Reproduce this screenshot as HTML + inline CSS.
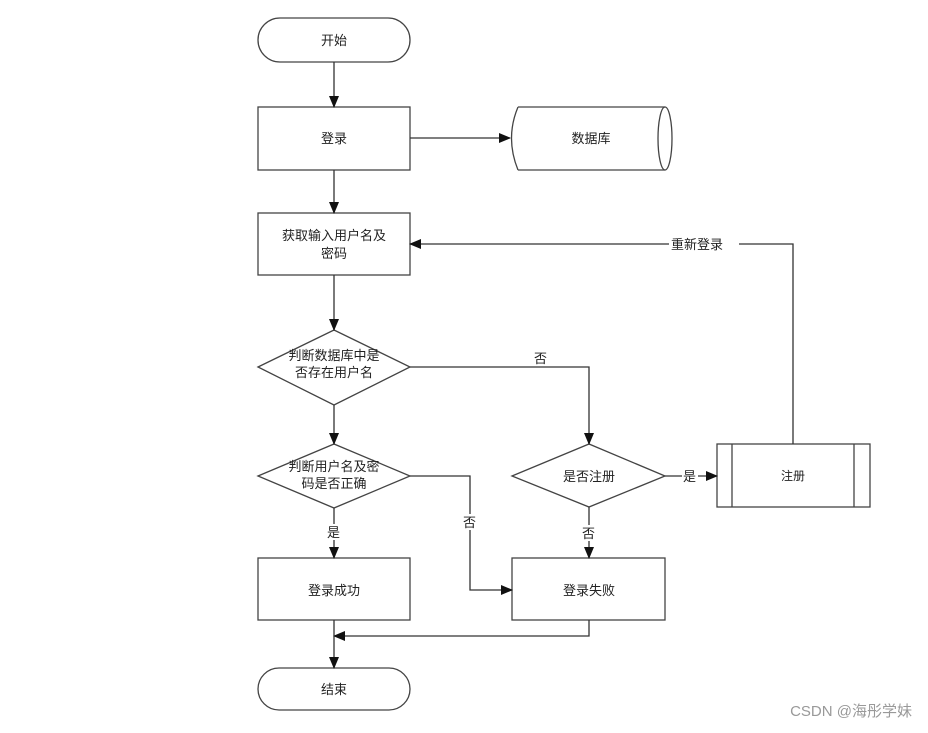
<!DOCTYPE html>
<html><head><meta charset="utf-8"><style>
html,body{margin:0;padding:0;background:#fff;}
svg text{font-family:"Liberation Sans","Noto Sans CJK SC",sans-serif;font-size:13px;fill:#222;}
</style></head><body>
<svg width="928" height="728" viewBox="0 0 928 728" xmlns="http://www.w3.org/2000/svg">
<defs><marker id="a" markerWidth="12" markerHeight="10" refX="11" refY="5" orient="auto" markerUnits="userSpaceOnUse"><path d="M0,0 L12,5 L0,10 z" fill="#111"/></marker></defs>
<g fill="none" stroke="#444" stroke-width="1.3">
<rect x="258" y="18" width="152" height="44" rx="22"/>
<rect x="258" y="107" width="152" height="63"/>
<path d="M518,107 H665 M518,170 H665 M518,107 Q505,138 518,170"/>
<ellipse cx="665" cy="138.5" rx="7" ry="31.5"/>
<rect x="258" y="213" width="152" height="62"/>
<polygon points="258,367 334,330 410,367 334,405"/>
<polygon points="258,476 334,444 410,476 334,508"/>
<polygon points="512,476 589,444 665,476 589,507"/>
<rect x="717" y="444" width="153" height="63"/>
<path d="M732,444 V507 M854,444 V507"/>
<rect x="258" y="558" width="152" height="62"/>
<rect x="512" y="558" width="153" height="62"/>
<rect x="258" y="668" width="152" height="42" rx="21"/>
</g>
<g fill="none" stroke="#333" stroke-width="1.3">
<path d="M334,62 V107" marker-end="url(#a)"/>
<path d="M410,138 H510" marker-end="url(#a)"/>
<path d="M334,170 V213" marker-end="url(#a)"/>
<path d="M334,275 V330" marker-end="url(#a)"/>
<path d="M334,405 V444" marker-end="url(#a)"/>
<path d="M410,367 H589 V444" marker-end="url(#a)"/>
<path d="M410,476 H470 V590 H512" marker-end="url(#a)"/>
<path d="M665,476 H717" marker-end="url(#a)"/>
<path d="M793,444 V244 H410" marker-end="url(#a)"/>
<path d="M589,507 V558" marker-end="url(#a)"/>
<path d="M334,508 V558" marker-end="url(#a)"/>
<path d="M589,620 V636 H334" marker-end="url(#a)"/>
<path d="M334,620 V668" marker-end="url(#a)"/>
</g>
<g text-anchor="middle">
<text x="334" y="45">开始</text>
<text x="334" y="143">登录</text>
<text x="591" y="143">数据库</text>
<text x="334" y="240">获取输入用户名及</text>
<text x="334" y="258">密码</text>
<text x="334" y="360">判断数据库中是</text>
<text x="334" y="377">否存在用户名</text>
<text x="334" y="471">判断用户名及密</text>
<text x="334" y="488">码是否正确</text>
<text x="589" y="481">是否注册</text>
<text x="793" y="480" style="font-size:12px">注册</text>
<text x="334" y="595">登录成功</text>
<text x="589" y="595">登录失败</text>
<text x="334" y="694">结束</text>
</g>
<g>
<rect x="533" y="350" width="16" height="16" fill="#fff"/>
<text x="534" y="363">否</text>
<rect x="669" y="236" width="70" height="16" fill="#fff"/>
<text x="671" y="249">重新登录</text>
<rect x="682" y="468" width="16" height="16" fill="#fff"/>
<text x="683" y="481">是</text>
<rect x="462" y="514" width="16" height="16" fill="#fff"/>
<text x="463" y="527">否</text>
<rect x="581" y="525" width="16" height="16" fill="#fff"/>
<text x="582" y="538">否</text>
<rect x="326" y="524" width="16" height="16" fill="#fff"/>
<text x="327" y="537">是</text>
</g>
<text x="912" y="716" text-anchor="end" style="font-size:15px;fill:#999">CSDN @海彤学妹</text>
</svg>
</body></html>
